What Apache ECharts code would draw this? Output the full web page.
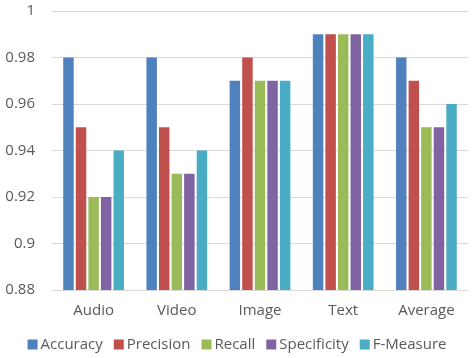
<!DOCTYPE html>
<html><head><meta charset="utf-8">
<script src="https://cdn.jsdelivr.net/npm/echarts@6/dist/echarts.min.js"></script>
<style>html,body{margin:0;padding:0;background:#fff}#c{width:474px;height:358px}</style>
</head><body><div id="c"></div>
<script>
const categories = ['Audio', 'Video', 'Image', 'Text', 'Average'];
const seriesNames = ['Accuracy', 'Precision', 'Recall', 'Specificity', 'F-Measure'];
const accuracy = [0.98, 0.98, 0.97, 0.99, 0.98];
const precision = [0.95, 0.95, 0.98, 0.99, 0.97];
const recall = [0.92, 0.93, 0.97, 0.99, 0.95];
const specificity = [0.92, 0.93, 0.97, 0.99, 0.95];
const fMeasure = [0.94, 0.94, 0.97, 0.99, 0.96];
const colors = ['#4F81BD', '#C0504D', '#9BBB59', '#8064A2', '#4BACC6'];
const allData = [accuracy, precision, recall, specificity, fMeasure];
const font = 'Open Sans, DejaVu Sans, sans-serif';
const chart = echarts.init(document.getElementById('c'));
chart.setOption({
  animation: false,
  grid: {left: 52, right: 6, top: 11, bottom: 68, containLabel: false},
  legend: {
    bottom: 1, left: 'center', itemWidth: 10, itemHeight: 10, itemGap: 11,
    icon: 'rect',
    textStyle: {color: '#595959', fontSize: 15, fontFamily: font, padding: [0, 0, 0, -2]},
    data: seriesNames
  },
  xAxis: {
    type: 'category', data: categories,
    axisLine: {lineStyle: {color: '#D9D9D9'}},
    axisTick: {show: false},
    axisLabel: {color: '#595959', fontSize: 15, fontFamily: font, margin: 13}
  },
  yAxis: {
    type: 'value', min: 0.88, max: 1, interval: 0.02,
    axisLine: {show: false}, axisTick: {show: false},
    splitLine: {lineStyle: {color: '#D9D9D9'}},
    axisLabel: {color: '#595959', fontSize: 15, fontFamily: font, margin: 17,
      formatter: v => String(+v.toFixed(2))}
  },
  series: seriesNames.map((n, i) => ({
    name: n, type: 'bar', data: allData[i],
    barGap: '20%', barCategoryGap: '27%',
    itemStyle: {color: colors[i]}
  }))
});
</script></body></html>
